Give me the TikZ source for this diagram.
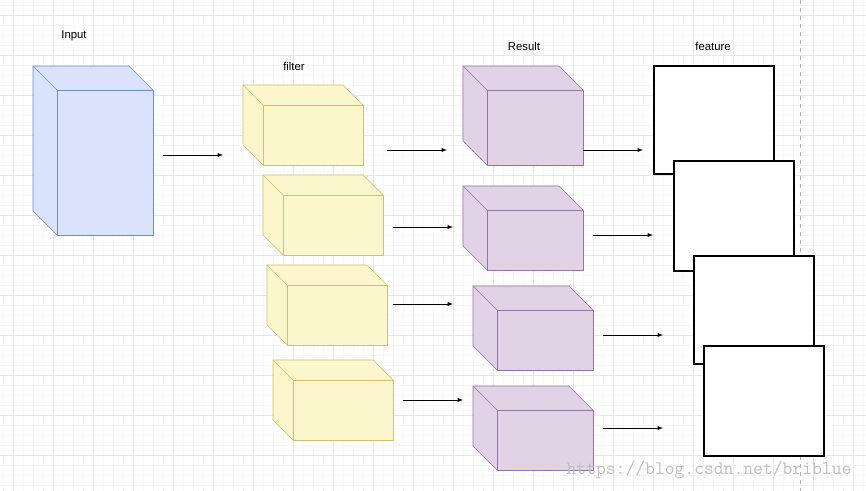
\documentclass[tikz,border=0pt]{standalone}
\usepackage{fontspec}
\setmainfont{Liberation Sans}
\begin{document}
\begin{tikzpicture}[x=0.75pt,y=-0.75pt,
  lbl/.style={font=\fontsize{8.5}{10}\selectfont},
  arr/.style={-latex,thin},
  blue/.style={fill={rgb,255:red,218;green,227;blue,251},draw={rgb,255:red,108;green,142;blue,191}},
  yel/.style={fill={rgb,255:red,252;green,246;blue,204},draw={rgb,255:red,214;green,190;blue,110}},
  pur/.style={fill={rgb,255:red,225;green,210;blue,230},draw={rgb,255:red,150;green,115;blue,166}},
  feat/.style={fill=white,draw=black,line width=1.3pt}]
\useasboundingbox (0,0) rectangle (866,491);
\fill[white] (0,0) rectangle (866,491);
\foreach \x in {3,13,...,863} \draw[black!3] (\x,0) -- (\x,491);
\foreach \y in {5,15,...,485} \draw[black!3] (0,\y) -- (866,\y);
\foreach \x in {13,53,...,853} \draw[black!9] (\x,0) -- (\x,491);
\foreach \y in {15,55,...,455} \draw[black!9] (0,\y) -- (866,\y);
\draw[black!30,dashed] (800,0) -- (800,491);
\newcommand\cubo[6]{%
 \draw[#1] (#2-#6,#3-#6) -- (#4-#6,#3-#6) -- (#4,#3) -- (#4,#5) -- (#2,#5) -- (#2-#6,#5-#6) -- cycle;
 \draw[#1] (#2-#6,#3-#6) -- (#2,#3);
 \draw[#1] (#2,#3) rectangle (#4,#5);}
\cubo{blue}{57}{90}{153}{235}{24}
\cubo{yel}{263}{105}{363}{165}{20}
\cubo{yel}{283}{195}{383}{255}{20}
\cubo{yel}{287}{285}{387}{345}{20}
\cubo{yel}{293}{380}{393}{440}{20}
\cubo{pur}{487}{90}{583}{165}{24}
\cubo{pur}{487}{210}{583}{270}{24}
\cubo{pur}{497}{310}{593}{370}{24}
\cubo{pur}{497}{410}{593}{470}{24}
\node[feat,minimum width=90pt,minimum height=81pt,anchor=north west] (f1) at (653,65) {};
\node[feat,minimum width=90pt,minimum height=82.5pt,anchor=north west] (f2) at (673,160) {};
\node[feat,minimum width=90pt,minimum height=81pt,anchor=north west] (f3) at (693,255) {};
\node[feat,minimum width=90pt,minimum height=82.5pt,anchor=north west] (f4) at (703,345) {};
\node[lbl] (ti) at (74,36) {Input};
\node[lbl] (tf) at (294,66) {filter};
\node[lbl] (tr) at (524,46) {Result};
\node[lbl] (tfe) at (713,46) {feature};
\foreach \a/\b/\y in {163/223/155,387/447/150,583/643/150,393/453/227,593/653/235,393/453/304,603/663/335,403/463/400,603/663/428}
  \draw[arr] (\a,\y) -- (\b,\y);
\node[text=black!25,font=\ttfamily\fontsize{14.3}{15}\selectfont] (wm) at (709,470) {https://blog.csdn.net/briblue};
\end{tikzpicture}
\end{document}
